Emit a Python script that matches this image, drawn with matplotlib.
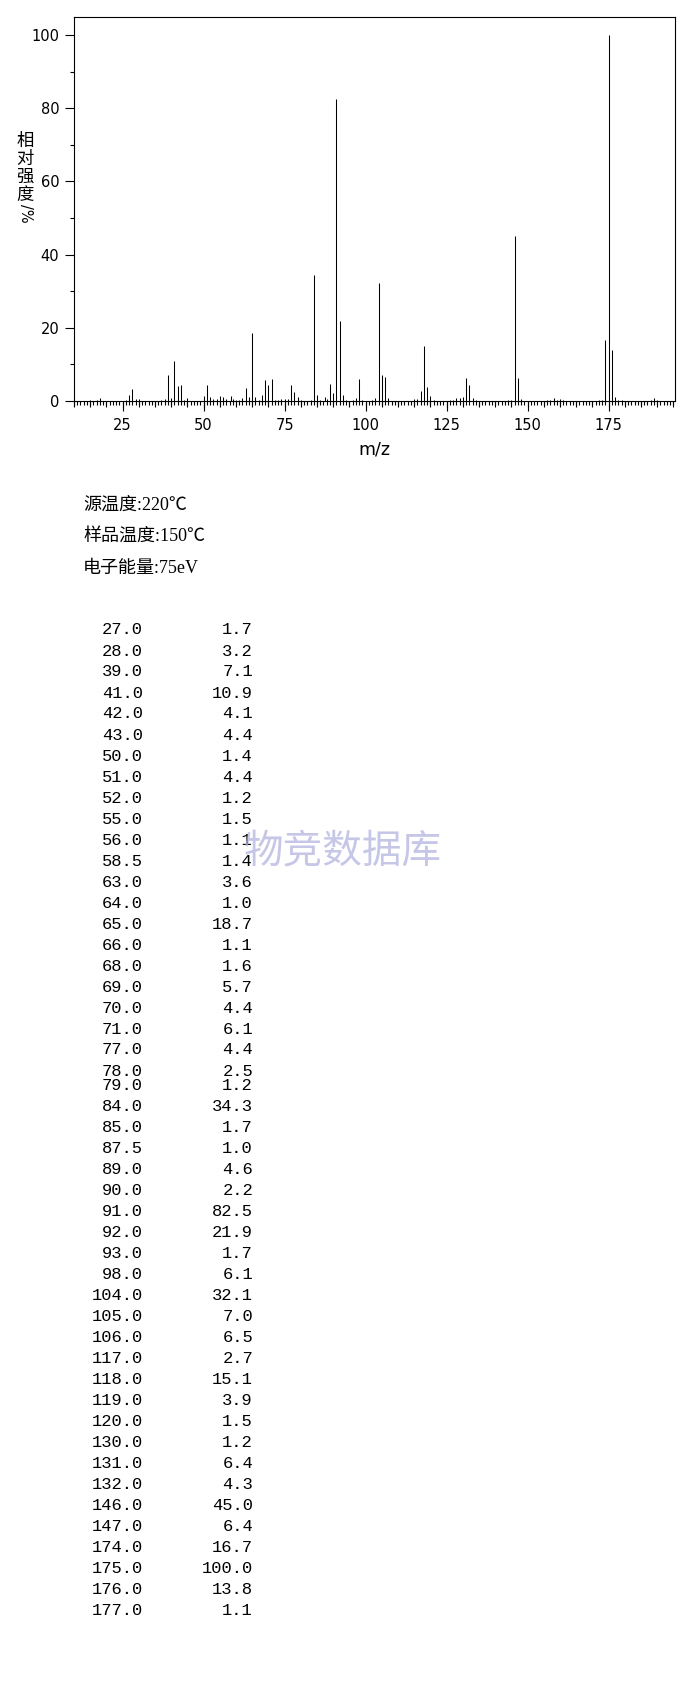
import matplotlib
matplotlib.use('Agg')
import matplotlib.pyplot as plt
from matplotlib.ticker import MultipleLocator, NullFormatter

# -----------------------------
# Data
# -----------------------------
# listed peaks (table + main bars)
mz = [27.0, 28.0, 39.0, 41.0, 42.0, 43.0, 50.0, 51.0, 52.0, 55.0, 56.0, 58.5,
      63.0, 64.0, 65.0, 66.0, 68.0, 69.0, 70.0, 71.0, 77.0, 78.0, 79.0, 84.0,
      85.0, 87.5, 89.0, 90.0, 91.0, 92.0, 93.0, 98.0, 104.0, 105.0, 106.0, 117.0,
      118.0, 119.0, 120.0, 130.0, 131.0, 132.0, 146.0, 147.0, 174.0, 175.0, 176.0, 177.0]
intensity = [1.7, 3.2, 7.1, 10.9, 4.1, 4.4, 1.4, 4.4, 1.2, 1.5, 1.1, 1.4,
             3.6, 1.0, 18.7, 1.1, 1.6, 5.7, 4.4, 6.1, 4.4, 2.5, 1.2, 34.3,
             1.7, 1.0, 4.6, 2.2, 82.5, 21.9, 1.7, 6.1, 32.1, 7.0, 6.5, 2.7,
             15.1, 3.9, 1.5, 1.2, 6.4, 4.3, 45.0, 6.4, 16.7, 100.0, 13.8, 1.1]

# small peaks (< 1 %) only visible in the plot, estimated
minor_mz = [15, 17, 18, 26, 29, 30, 37, 38, 40, 44,
            45, 53, 54, 57, 59, 60, 61, 62, 67, 72,
            73, 74, 75, 76, 80, 83, 86, 88, 94, 96,
            97, 99, 102, 103, 107, 115, 116, 121, 126, 127,
            128, 129, 133, 134, 144, 145, 148, 156, 157, 158,
            159, 160, 161, 172, 173, 178, 179, 188, 189, 190]
minor_int = [0.3, 0.3, 0.8, 0.3, 0.5, 0.5, 0.3, 0.5, 0.8, 0.3,
             0.8, 0.5, 0.5, 0.5, 0.5, 0.3, 0.3, 0.8, 0.3, 0.3,
             0.3, 0.5, 0.5, 0.5, 0.3, 0.3, 0.3, 0.5, 0.3, 0.3,
             0.8, 0.3, 0.3, 0.8, 0.8, 0.5, 0.5, 0.3, 0.3, 0.3,
             0.8, 0.8, 0.8, 0.3, 0.3, 0.3, 0.5, 0.3, 0.3, 0.8,
             0.3, 0.5, 0.3, 0.3, 0.3, 0.3, 0.3, 0.3, 0.8, 0.3]

info_lines = ['源温度:220℃', '样品温度:150℃', '电子能量:75eV']
ylabel_chars = '相\n对\n强\n度'
watermark = '物竞数据库'

# -----------------------------
# Figure
# -----------------------------
W, H = 687, 1701
fig = plt.figure(figsize=(W / 100, H / 100), dpi=100)


def fx(px):
    return px / W


def fy(py):
    return 1 - py / H


ax = fig.add_axes([fx(74), fy(401), fx(675) - fx(74), fy(17) - fy(401)])
ax.vlines(minor_mz, 0, minor_int, color='black', lw=0.75)
ax.vlines(mz, 0, intensity, color='black', lw=0.75)

ax.set_xlim(10, 195.5)
ax.set_ylim(0, 104.9)
for s in ax.spines.values():
    s.set_linewidth(0.8)

ax.xaxis.set_major_locator(MultipleLocator(25))
ax.xaxis.set_minor_locator(MultipleLocator(1))
ax.yaxis.set_major_locator(MultipleLocator(20))
ax.yaxis.set_minor_locator(MultipleLocator(10))
ax.tick_params(axis='x', which='major', direction='out', length=7.2, width=0.8,
               pad=5, labelsize=10.5)
ax.tick_params(axis='x', which='minor', direction='out', length=2.9, width=0.8)
ax.tick_params(axis='y', which='major', direction='out', length=6.5, width=0.8,
               pad=4, labelsize=10.5)
ax.tick_params(axis='y', which='minor', direction='out', length=2.9, width=0.8)

# medium ticks every 5
sec = ax.secondary_xaxis('bottom')
sec.spines['bottom'].set_visible(False)
sec.xaxis.set_major_locator(MultipleLocator(5))
sec.xaxis.set_major_formatter(NullFormatter())
sec.tick_params(axis='x', direction='out', length=4.5, width=0.8)

# axis labels
fig.text(fx(374), fy(450), 'm/z', ha='center', va='center', fontsize=12.5,
         family='DejaVu Sans')
fig.text(fx(25), fy(168), ylabel_chars, ha='center', va='center', fontsize=12.5,
         linespacing=1.0, family=['Noto Sans CJK SC', 'DejaVu Sans'])
fig.text(fx(25), fy(213), '/%', ha='center', va='center', fontsize=10.5,
         rotation=270, family='DejaVu Sans')

# -----------------------------
# Info lines
# -----------------------------
for i, line in enumerate(info_lines):
    fig.text(fx(83), fy(505 + 31.5 * i), line, ha='left', va='center',
             fontsize=13, family=['Liberation Serif', 'Noto Sans CJK SC'])

# -----------------------------
# Peak table
# -----------------------------
y = 630
for i, (m, v) in enumerate(zip(mz, intensity)):
    if i > 0:
        y += 14 if mz[i - 1] == 78.0 else 21
    fig.text(fx(143), fy(y), f'{m:.1f}', ha='right', va='center',
             fontsize=12.3, family='Liberation Mono')
    fig.text(fx(253), fy(y), f'{v:.1f}', ha='right', va='center',
             fontsize=12.3, family='Liberation Mono')

# watermark
fig.text(fx(343), fy(851), watermark, ha='center', va='center', fontsize=28.5,
         color='#b4b4e0', alpha=0.75, family='Noto Sans CJK SC', zorder=10)

fig.savefig('out.png', dpi=100)
